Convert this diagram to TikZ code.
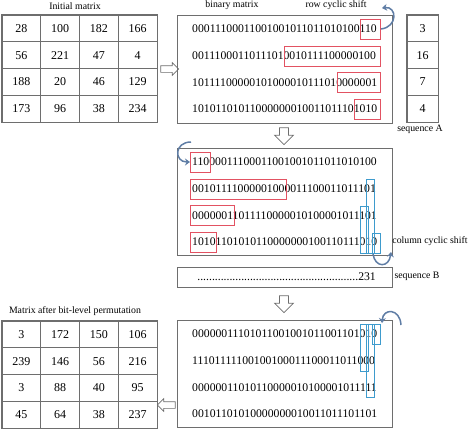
\documentclass[tikz,border=0pt]{standalone}
\usepackage{fontspec}
\setmainfont{Liberation Serif}
\usepackage{xcolor}
\usepackage{tikz}
\usetikzlibrary{shapes.arrows,arrows.meta}

\definecolor{shiftred}{RGB}{226,82,98}
\definecolor{shiftblue}{RGB}{62,155,205}
\definecolor{arrowblue}{RGB}{95,125,165}
\definecolor{linegray}{RGB}{110,110,110}

\tikzset{
  cell/.style={draw=linegray, line width=0.6pt, minimum width=38.75pt, minimum height=26.75pt, inner sep=0pt, font=\fontsize{12}{12}\selectfont},
  seqcell/.style={cell, minimum width=31pt},
  panel/.style={draw=linegray, line width=0.9pt, minimum width=215pt, inner sep=0pt},
  bits/.style={anchor=west, inner sep=0pt, font=\fontsize{11.7}{12}\selectfont},
  lbl/.style={inner sep=0pt, font=\fontsize{9.8}{10}\selectfont},
  redbox/.style={draw=shiftred, line width=0.8pt},
  bluebox/.style={draw=shiftblue, line width=0.8pt},
  blockarrow/.style={single arrow, draw=linegray, fill=white, line width=0.7pt, inner sep=3pt, single arrow head extend=3pt, minimum height=18pt},
  downarrow/.style={blockarrow, inner sep=4pt, single arrow head extend=5pt, minimum width=19pt, minimum height=17pt, shape border rotate=270},
  cyc/.style={draw=arrowblue, line width=1.5pt, -{Stealth[length=5pt,width=7pt]}}
}

% box round some bits of one row: [style]{first}{last}{top}{bottom}
\newcommand{\bitbox}[5][redbox]{\draw[#1] ({192+5.85*#2-1.2},#4) rectangle ({192+5.85*#3+1.2},#5);}

\begin{document}
\begin{tikzpicture}[x=1pt,y=-1pt]
  \useasboundingbox (0,0) rectangle (474,429);

  % initial matrix
  \node[lbl] (lini) at (75,6) {Initial matrix};
  \foreach \row [count=\r] in {{28,100,182,166},{56,221,47,4},{188,20,46,129},{173,96,38,234}}{
    \foreach \v [count=\c] in \row {
      \node[cell] (ini-\r-\c) at ({2+38.75*(\c-0.5)},{15+26.75*(\r-0.5)}) {\v};
    }
  }
  \draw[linegray, line width=0.9pt] (ini-1-1.north west) rectangle (ini-4-4.south east);
  \node[blockarrow] (a1) at (168,69) {};

  % binary matrix
  \node[lbl] (lbin) at (232,5) {binary matrix};
  \node[lbl] (lrow) at (336,5) {row cyclic shift};
  \node[panel, minimum height=108pt] (bin1) at (284.5,69) {};
  \foreach \b [count=\r] in {00011100011001001011011010100110,00111000110111010010111100000100,10111100000101000010111010000001,10101101011000000010011011101010}{
    \node[bits] (bin1-\r) at (192,{2.3+26.7*\r}) {\b};
  }
  \bitbox{29}{32}{19}{39}
  \bitbox{16}{32}{46}{66}
  \bitbox{25}{32}{72}{92}
  \bitbox{28}{32}{99}{119}
  \coordinate (rs-a) at (381,29);
  \coordinate (rs-b) at (382,8);
  \draw[cyc] (rs-a) .. controls (398,27) and (397,6) .. (rs-b);

  % sequence A
  \foreach \v [count=\r] in {3,16,7,4}{
    \node[seqcell] (seqA-\r) at (422.5,{15+26.75*(\r-0.5)}) {\v};
  }
  \draw[linegray, line width=0.9pt] (seqA-1.north west) rectangle (seqA-4.south east);
  \node[lbl] (lseqA) at (420,129) {sequence A};

  \node[downarrow] (a2) at (284,134) {};

  % after row shift
  \node[panel, minimum height=107pt] (bin2) at (284.5,201.5) {};
  \foreach \b [count=\r] in {11000011100011001001011011010100,00101111000001000011100011011101,00000011011110000010100001011101,10101101010110000000100110111010}{
    \node[bits] (bin2-\r) at (192,{135.3+26.7*\r}) {\b};
  }
  \bitbox{0}{3}{152}{172}
  \bitbox{0}{16}{179}{199}
  \bitbox{0}{7}{205}{225}
  \bitbox{0}{4}{232}{252}
  \bitbox[bluebox]{29}{30}{206}{253}
  \bitbox[bluebox]{30}{31}{179}{253}
  \bitbox[bluebox]{31}{32}{233}{253}
  \coordinate (ls-a) at (191,142);
  \coordinate (ls-b) at (190,162);
  \draw[cyc] (ls-a) .. controls (174,142) and (174,162) .. (ls-b);
  \coordinate (cs-a) at (373,254);
  \coordinate (cs-b) at (391,252);
  \draw[cyc] (cs-a) .. controls (375,268) and (389,268) .. (cs-b);
  \node[lbl] (lcol) at (430,241) {column cyclic shift};

  % sequence B
  \node[panel, minimum height=20pt] (seqB) at (284.5,277) {};
  \node[bits, anchor=east] (seqB-t) at (376,277) {.......................................................231};
  \node[lbl] (lseqB) at (417,276) {sequence B};

  \node[downarrow] (a3) at (284,302) {};

  % after column shift
  \node[panel, minimum height=107pt] (bin3) at (284.5,373.5) {};
  \foreach \b [count=\r] in {00000011101011001001011001101010,11101111100100100011100011011000,00000011010110000010100001011111,00101101010000000010011011101101}{
    \node[bits] (bin3-\r) at (192,{307.3+26.7*\r}) {\b};
  }
  \bitbox[bluebox]{29}{30}{324}{371}
  \bitbox[bluebox]{30}{31}{324}{397}
  \bitbox[bluebox]{31}{32}{324}{344}
  \coordinate (cu-a) at (401,325);
  \coordinate (cu-b) at (382,323);
  \draw[cyc] (cu-a) .. controls (400,308) and (383,308) .. (cu-b);

  \node[blockarrow, shape border rotate=180] (a4) at (168,405) {};

  % permuted matrix
  \node[lbl] (lfin) at (75,311) {Matrix after bit-level permutation};
  \foreach \row [count=\r] in {{3,172,150,106},{239,146,56,216},{3,88,40,95},{45,64,38,237}}{
    \foreach \v [count=\c] in \row {
      \node[cell] (fin-\r-\c) at ({2+38.75*(\c-0.5)},{321+26.75*(\r-0.5)}) {\v};
    }
  }
  \draw[linegray, line width=0.9pt] (fin-1-1.north west) rectangle (fin-4-4.south east);
\end{tikzpicture}
\end{document}
